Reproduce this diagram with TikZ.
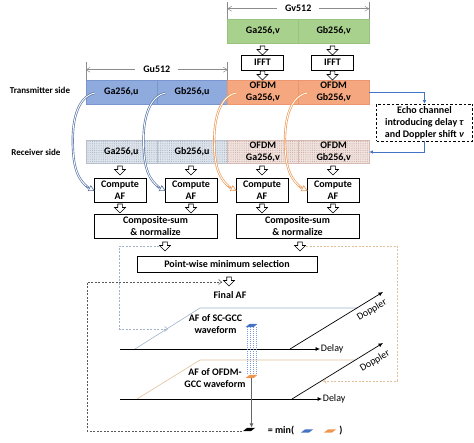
\documentclass[tikz,border=0pt]{standalone}
\usepackage{fontspec}
\setmainfont{Carlito}
\usetikzlibrary{arrows.meta,calc,patterns.meta}
\definecolor{gfill}{RGB}{169,209,142}
\definecolor{gdraw}{RGB}{150,195,125}
\definecolor{bfill}{RGB}{143,170,220}
\definecolor{bdraw}{RGB}{120,150,205}
\definecolor{ofill}{RGB}{245,168,128}
\definecolor{odraw}{RGB}{235,150,110}
\definecolor{rxb}{RGB}{222,228,236}
\definecolor{rxo}{RGB}{240,226,222}
\definecolor{rxbd}{RGB}{135,148,168}
\definecolor{rxod}{RGB}{185,140,130}
\definecolor{cblue}{RGB}{85,115,165}
\definecolor{corange}{RGB}{238,150,80}
\definecolor{lnblue}{RGB}{68,114,196}
\definecolor{pblue}{RGB}{160,178,205}
\definecolor{porange}{RGB}{225,192,155}
\definecolor{dimgray}{RGB}{140,140,140}
\tikzset{
  bf/.style={font=\bfseries\fontsize{10}{12}\selectfont},
  cell/.style={bf, minimum width=70.75pt, minimum height=24pt, inner sep=0pt, align=center, line width=0.5pt},
  gcell/.style={cell, fill=gfill, draw=gdraw},
  bcell/.style={cell, fill=bfill, draw=bdraw},
  ocell/.style={cell, fill=ofill, draw=odraw},
  rxbcell/.style={cell, minimum height=23pt, draw=rxbd!60, preaction={fill=rxb}, pattern={Dots[distance=2.2pt,radius=0.5pt]}, pattern color=rxbd!80},
  rxocell/.style={cell, minimum height=23pt, draw=rxod!60, preaction={fill=rxo}, pattern={Dots[distance=2.2pt,radius=0.5pt]}, pattern color=rxod!80},
  proc/.style={bf, draw, line width=0.8pt, fill=white, inner sep=0pt, align=center},
  harrow/.pic={\draw[line width=0.6pt, fill=white] (-2.3,0) -- (2.3,0) -- (2.3,3.5) -- (5.5,3.5) -- (0,9) -- (-5.5,3.5) -- (-2.3,3.5) -- cycle;},
  para/.pic={\fill[#1] (-6,1.6) -- (2,1.6) -- (6,-1.6) -- (-2,-1.6) -- cycle;},
  dimline/.style={dimgray, line width=0.5pt, {Straight Barb[length=4pt,width=5pt]}-{Straight Barb[length=4pt,width=5pt]}},
  dimlabel/.style={bf, fill=white, text=black, inner xsep=8pt, inner ysep=1pt},
  loopline/.style={line width=0.6pt, dash pattern=on 2pt off 1.5pt, -{Straight Barb[length=3pt,width=5pt]}},
  axis/.style={line width=0.7pt, -{Latex[length=4.5pt,width=4pt]}},
  axlabel/.style={font=\fontsize{10}{12}\selectfont, inner sep=0.5pt},
}
\newcommand{\tubearrow}[3]{%
  \draw[line width=2.2pt, #1] ($(#2.west)+(9,1)$) .. controls +(-12,2) and +(0,-30) .. ($(#2.west)+(-13,48)$) .. controls +(0,30) and +(-10,-8) .. ($(#3.west)+(-5,-2)$);
  \draw[line width=0.9pt, white] ($(#2.west)+(9,1)$) .. controls +(-12,2) and +(0,-30) .. ($(#2.west)+(-13,48)$) .. controls +(0,30) and +(-10,-8) .. ($(#3.west)+(-5,-2)$);
  \draw[line width=0.6pt, #1, -{Triangle[open,length=6pt,width=6.5pt]}] ($(#3.west)+(-8,-3.8)$) -- ($(#3.west)+(1,0.8)$);
}
\begin{document}
\begin{tikzpicture}[x=1pt,y=-1pt]
\useasboundingbox (0,0) rectangle (474,443);

% Side labels
\node[font=\bfseries\fontsize{9}{11}\selectfont] (txlab) at (40,90) {Transmitter side};
\node[font=\bfseries\fontsize{9}{11}\selectfont] (rxlab) at (36,152) {Receiver side};

% Green source cells
\node[gcell] (gva) at (262.875,31) {Ga256,v};
\node[gcell] (gvb) at (333.625,31) {Gb256,v};

% IFFT
\node[proc, minimum width=42pt, minimum height=15pt] (ifft1) at (262.5,62.5) {IFFT};
\node[proc, minimum width=42pt, minimum height=15pt] (ifft2) at (332.5,62.5) {IFFT};

% Transmitter row
\node[bcell] (txa) at (121.375,92) {Ga256,u};
\node[bcell] (txb) at (192.125,92) {Gb256,u};
\node[ocell] (txc) at (262.875,92) {OFDM\\Ga256,v};
\node[ocell] (txd) at (333.625,92) {OFDM\\Gb256,v};

% Receiver row
\node[rxbcell] (rxa) at (121.375,152) {Ga256,u};
\node[rxbcell] (rxb) at (192.125,152) {Gb256,u};
\node[rxocell] (rxc) at (262.875,152) {OFDM\\Ga256,v};
\node[rxocell] (rxd) at (333.625,152) {OFDM\\Gb256,v};

% Echo channel
\node[bf, draw, line width=0.7pt, dash pattern=on 2.5pt off 2pt, minimum width=96pt, minimum height=37pt, inner sep=0pt, align=center] (echo) at (424.5,122.5) {Echo channel\\introducing delay \textit{τ}\\and Doppler shift \textit{ν}};

% Compute AF
\node[proc, minimum width=52pt, minimum height=24pt] (ca1) at (120,190) {Compute\\AF};
\node[proc, minimum width=52pt, minimum height=24pt] (ca2) at (191,190) {Compute\\AF};
\node[proc, minimum width=52pt, minimum height=24pt] (ca3) at (262,190) {Compute\\AF};
\node[proc, minimum width=52pt, minimum height=24pt] (ca4) at (333,190) {Compute\\AF};

% Composite sums
\node[proc, minimum width=123pt, minimum height=24pt] (cs1) at (155.5,226) {Composite-sum\\\& normalize};
\node[proc, minimum width=123pt, minimum height=24pt] (cs2) at (297.5,226) {Composite-sum\\\& normalize};

% Point-wise min
\node[proc, minimum width=180pt, minimum height=16pt] (pw) at (227,264) {Point-wise minimum selection};
\node[bf] (final) at (230,295) {Final AF};

% Dimension lines
\draw[dimgray, line width=0.5pt] ($(txa.north west)$) -- ++(0,-18);
\draw[dimgray, line width=0.5pt] ($(txc.north west)$) -- ++(0,-18);
\draw[dimline] ($(txa.north west)+(0,-10)$) -- ($(txb.north east)+(0,-10)$) node[midway, dimlabel] (gu) {Gu512};
\draw[dimgray, line width=0.5pt] ($(gva.north west)$) -- ++(0,-17);
\draw[dimgray, line width=0.5pt] ($(gvb.north east)$) -- ++(0,-17);
\draw[dimline] ($(gva.north west)+(0,-10)$) -- ($(gvb.north east)+(0,-10)$) node[midway, dimlabel] (gv) {Gv512};

% Hollow block arrows
\pic at (262.5,46) {harrow};
\pic at (332.5,46) {harrow};
\pic at (262.5,71) {harrow};
\pic at (332.5,71) {harrow};
\foreach \x in {120,191,262,333} {
  \pic at (\x,166) {harrow};
  \pic at (\x,204) {harrow};
}
\pic at (165,242) {harrow};
\pic at (300,242) {harrow};
\pic at (229,277) {harrow};
\coordinate (ha1) at (165,246);
\coordinate (ha2) at (300,246);
\coordinate (haf) at (229,282);

% Echo channel connectors
\draw[lnblue, line width=0.8pt, -{Latex[length=3.5pt,width=3.5pt]}] (txd.east) -| (echo.north);
\draw[lnblue, line width=0.8pt, -{Latex[length=3.5pt,width=3.5pt]}] (echo.south) |- (rxd.east);

% Tube arrows
\tubearrow{cblue}{txa}{ca1}
\tubearrow{cblue}{txb}{ca2}
\tubearrow{corange}{txc}{ca3}
\tubearrow{corange}{txd}{ca4}

% Planes
\draw[pblue, line width=0.6pt] (135,349) -- (200,308) -- (357,308);
\draw[axis] (120,349) -- (320,349) node[right, axlabel] (delay1) {Delay};
\draw[axis] (290,349) -- (383,292);
\node[axlabel, rotate=31.5] (dop1) at (372,310) {Doppler};
\node[bf, align=center] (sclab) at (215.5,324) {AF of SC-GCC\\waveform};

\draw[porange, line width=0.6pt] (137,399) -- (200,360) -- (356,360);
\draw[axis] (120,399) -- (322,399) node[right, axlabel] (delay2) {Delay};
\draw[axis] (292,399) -- (383,343);
\node[axlabel, rotate=31.5] (dop2) at (375,361) {Doppler};
\node[bf, align=center] (oflab) at (215,378) {AF of OFDM-\\GCC waveform};

% Small AF patches
\pic at (251.5,325.5) {para=lnblue};
\pic at (251.5,376.5) {para=corange};
\coordinate (pb) at (251.5,327);
\coordinate (po) at (251.5,378);
\foreach \dx in {-4.5,-1.5,1.5,4.5}
  \draw[lnblue!70, line width=0.5pt, dash pattern=on 1pt off 1pt] ($(pb)+(\dx,0)$) -- ($(pb)+(\dx,48)$);
\coordinate (pmin) at (251.5,429.5);
\draw[gray!80!black, line width=0.6pt, -{Latex[length=4pt,width=4pt]}] (po) -- ($(pmin)+(0,-2)$);
\pic at (249,429.5) {para=black};
\node[bf, inner sep=0pt] (minexpr) at (281,430.5) {=\ min(};
\pic at (307,431) {para=lnblue};
\pic at (330,431) {para=corange};
\node[bf, inner sep=0pt] (closep) at (341,430.5) {)};

% Dashed feedback loops
\draw[loopline, pblue] ($(ha1)+(-6,0)$) -| (119,329) -- (168,329);
\draw[loopline, porange] ($(ha2)+(6,0)$) -| (397,381) -- (323,381);
\draw[loopline, gray!70!black] (242,431) -| (87,282) -- ($(haf)+(-7,0)$);
\end{tikzpicture}
\end{document}
